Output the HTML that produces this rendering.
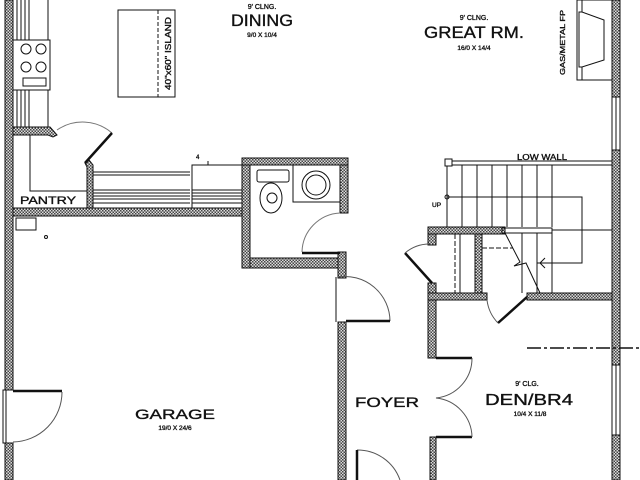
<!DOCTYPE html>
<html><head><meta charset="utf-8"><style>
html,body{margin:0;padding:0;background:#fff;}
svg{display:block;}
text{font-family:"Liberation Sans",sans-serif;fill:#111;}
.b{stroke:#111;stroke-width:0.35;}
</style></head><body>
<svg width="640" height="480" viewBox="0 0 640 480" xmlns="http://www.w3.org/2000/svg">
<defs>
<pattern id="h" width="3" height="3" patternUnits="userSpaceOnUse">
<rect width="3" height="3" fill="#ddd"/><rect width="1.5" height="1.5" fill="#444"/><rect x="1.5" y="1.5" width="1.5" height="1.5" fill="#444"/>
</pattern>
</defs>
<g fill="url(#h)" stroke="#111" stroke-width="1">
<rect x="5" y="0" width="8" height="390"/>
<rect x="5" y="443" width="8" height="37"/>
<polygon points="13,127 50,127 57,135 53,137 48,135 13,135"/>
<polygon points="85,163 89,160 93,165 93,208 87,208 87,167"/>
<rect x="13" y="208" width="232" height="8"/>
<rect x="242" y="158" width="106" height="7"/>
<rect x="242" y="165" width="8" height="103"/>
<rect x="340" y="165" width="8" height="48"/>
<rect x="250" y="258" width="90" height="10"/>
<rect x="338" y="252" width="8" height="26"/>
<rect x="338" y="322" width="8" height="158"/>
<rect x="428" y="283" width="8" height="75"/>
<rect x="430" y="437" width="6" height="43"/>
<rect x="428" y="227" width="77" height="7"/>
<rect x="428" y="234" width="8" height="11"/>
<rect x="475" y="234" width="7" height="59"/>
<rect x="428" y="293" width="59" height="7"/>
<rect x="527" y="293" width="93" height="7"/>
<rect x="612" y="0" width="8" height="97"/>
<rect x="612" y="150" width="8" height="215"/>
<rect x="612" y="435" width="8" height="45"/>
</g>
<g fill="none" stroke="#111" stroke-width="1">
<rect x="612" y="97" width="8" height="53"/><line x1="616" y1="97" x2="616" y2="150"/>
<rect x="612" y="365" width="8" height="70"/><line x1="616" y1="365" x2="616" y2="435"/>
<line x1="17" y1="0" x2="17" y2="127"/><line x1="21" y1="0" x2="21" y2="127"/>
<line x1="25" y1="0" x2="25" y2="127"/><line x1="29" y1="0" x2="29" y2="127"/>
<line x1="48" y1="0" x2="48" y2="127"/>
<rect x="13" y="40" width="37" height="50" fill="#fff"/>
<circle cx="26" cy="49" r="5"/><circle cx="41" cy="49" r="5"/>
<circle cx="26" cy="67" r="5"/><circle cx="41" cy="67" r="5"/>
<rect x="23" y="78" width="23" height="8"/>
<rect x="118" y="10" width="57" height="87"/>
<line x1="158" y1="10" x2="158" y2="97" stroke-dasharray="4,2"/>
<path d="M30 135 V191 H87"/>
<path d="M57 130 A45 45 0 0 1 112 133" stroke="#777"/>
<line x1="112" y1="133" x2="85" y2="163" stroke-width="2.5"/>
<path d="M93 172 H190 M93 175 H190 M93 190 H190 M93 193 H190 M93 196 H190 M93 199 H190 M93 203 H190"/>
<rect x="192" y="165" width="50" height="43"/>
<path d="M192 190 H242 M192 193 H242 M192 196 H242 M192 199 H242 M192 203 H242"/>
<path d="M208 165 v-4"/>
<rect x="257" y="170" width="32" height="12" rx="2"/>
<ellipse cx="271" cy="198" rx="11" ry="15"/><circle cx="272" cy="198" r="5"/>
<rect x="293" y="165" width="47" height="37"/>
<circle cx="316" cy="185" r="14"/><circle cx="316" cy="185" r="10"/>
<path d="M302 252 A40 40 0 0 1 340 213" stroke="#777"/>
<line x1="302" y1="253" x2="340" y2="253" stroke-width="2.5"/>
<path d="M13 442 A50 50 0 0 0 62 392" stroke="#555"/>
<line x1="13" y1="391" x2="62" y2="391" stroke-width="2.5"/>
<rect x="3" y="390" width="3" height="53"/>
<path d="M338 277 A45 45 0 0 1 390 321" stroke="#555"/>
<line x1="346" y1="321" x2="390" y2="321" stroke-width="2.5"/>
<line x1="336" y1="277" x2="336" y2="322"/>
<path d="M357 450 A45 45 0 0 1 400 480" stroke="#555"/>
<line x1="357" y1="450" x2="357" y2="480" stroke-width="2.5"/>
<line x1="436" y1="358" x2="472" y2="358" stroke-width="2.5"/>
<line x1="436" y1="437" x2="472" y2="437" stroke-width="2.5"/>
<path d="M472 358 A40 40 0 0 1 436 398 A40 40 0 0 1 472 437" stroke="#555"/>
<line x1="405" y1="253" x2="432" y2="283" stroke-width="2.5"/>
<path d="M405 253 A38 38 0 0 1 430 244" stroke="#555"/>
<line x1="455" y1="234" x2="455" y2="293" stroke-dasharray="5,2"/>
<line x1="460" y1="234" x2="460" y2="293"/>
<line x1="482" y1="248" x2="513" y2="248" stroke-dasharray="5,2"/>
<line x1="527" y1="297" x2="498" y2="323" stroke-width="2.5"/>
<path d="M487 300 A40 40 0 0 0 498 323" stroke="#555"/>
<rect x="445" y="159" width="7" height="7"/>
<line x1="452" y1="161" x2="612" y2="161"/><line x1="452" y1="165" x2="612" y2="165"/>
<line x1="447" y1="166" x2="447" y2="227"/>
<path d="M462 165V227 M477 165V227 M492 165V227 M507 165V227 M522 165V227 M537 165V227 M552 165V227"/>
<path d="M447 197 H582 V263 H537"/>
<path d="M502 228 H552 V233 H502 Z M552 230 H612"/>
<path d="M522 233V293 M537 233V293 M552 233V293"/>
<path d="M505 233 L520 262 L514 266 L526 263 L540 293"/>
<path d="M545 258 L540 263 L545 268"/>
<circle cx="447" cy="197" r="2"/>
<line x1="527" y1="348" x2="640" y2="348" stroke-dasharray="14,3,3,3" stroke-width="1.5"/>
<rect x="577" y="0" width="35" height="80"/>
<path d="M582 0 V12 M582 67 V80"/>
<path d="M579 12 H582 L604 20 V60 L582 67 H579 Z"/>
<rect x="16" y="218" width="20" height="12"/>
<circle cx="46" cy="237" r="1.5"/>
</g>
<g class="b">
<text x="262" y="9" font-size="7" text-anchor="middle">9' CLNG.</text>
<text x="231" y="26" font-size="17" textLength="62" lengthAdjust="spacingAndGlyphs">DINING</text>
<text x="262" y="37" font-size="6.5" text-anchor="middle">9/0 X 10/4</text>
<text x="474" y="20" font-size="7" text-anchor="middle">9' CLNG.</text>
<text x="424" y="38" font-size="17" textLength="100" lengthAdjust="spacingAndGlyphs">GREAT RM.</text>
<text x="474" y="50" font-size="6.5" text-anchor="middle">16/0 X 14/4</text>
<text transform="translate(565,75) rotate(-90)" font-size="7" textLength="65" lengthAdjust="spacingAndGlyphs">GAS/METAL FP</text>
<text transform="translate(171,90) rotate(-90)" font-size="8" textLength="73" lengthAdjust="spacingAndGlyphs">40"x60" ISLAND</text>
<text x="20" y="204" font-size="11" textLength="56" lengthAdjust="spacingAndGlyphs">PANTRY</text>
<text x="196" y="159" font-size="6">4</text>
<text x="517" y="160" font-size="8" textLength="50" lengthAdjust="spacingAndGlyphs">LOW WALL</text>
<text x="432" y="207" font-size="6.5">UP</text>
<text x="355" y="407" font-size="14" textLength="64" lengthAdjust="spacingAndGlyphs">FOYER</text>
<text x="527" y="386" font-size="7" text-anchor="middle">9' CLG.</text>
<text x="485" y="405" font-size="16" textLength="88" lengthAdjust="spacingAndGlyphs">DEN/BR4</text>
<text x="530" y="416" font-size="6.5" text-anchor="middle">10/4 X 11/8</text>
<text x="135" y="419" font-size="14" textLength="80" lengthAdjust="spacingAndGlyphs">GARAGE</text>
<text x="175" y="430" font-size="6.5" text-anchor="middle">19/0 X 24/6</text>
</g>
</svg>
</body></html>
